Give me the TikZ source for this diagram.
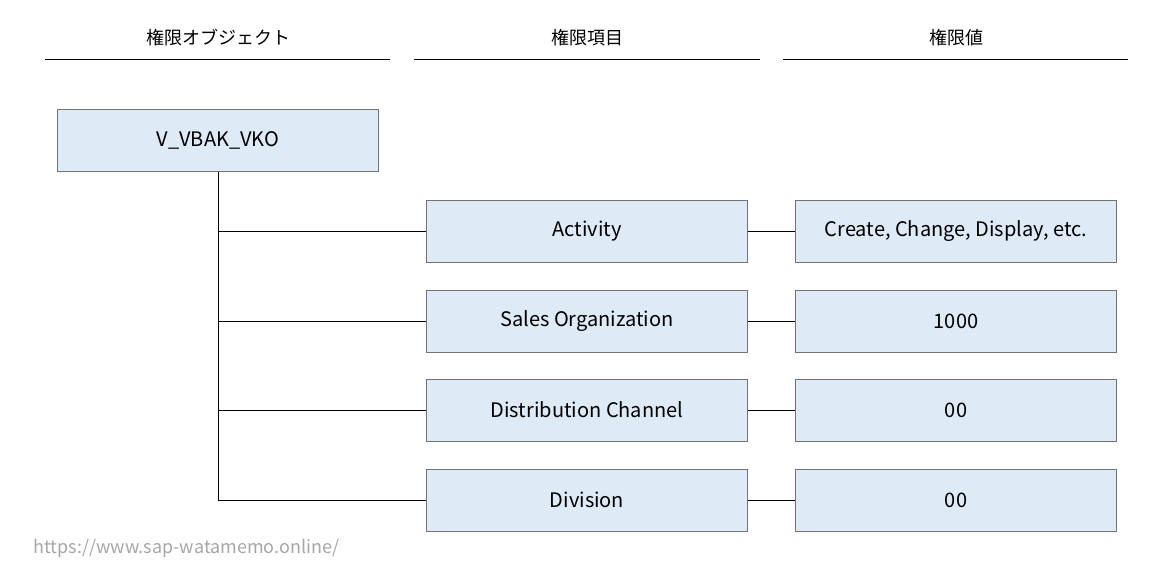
\documentclass[tikz,border=0pt]{standalone}
\usepackage{fontspec}
\setmainfont{Noto Sans CJK JP}
\begin{document}
\begin{tikzpicture}[x=1pt,y=-1pt,
 box/.style={draw=black!55,fill={rgb,255:red,222;green,234;blue,246},line width=1pt,minimum width=321pt,minimum height=62pt,inner sep=0pt,font=\fontsize{20}{24}\selectfont},
 hd/.style={font=\fontsize{18}{22}\selectfont},
 ln/.style={line width=0.8pt}]
\useasboundingbox (0,0) rectangle (1153,565);
\node[hd] (h1) at (218,38) {権限オブジェクト};
\node[hd] (h2) at (587,38) {権限項目};
\node[hd] (h3) at (956,38) {権限値};
\draw[ln] (45,59) -- (390,59);
\draw[ln] (414,59) -- (760,59);
\draw[ln] (783,59) -- (1128,59);
\node[box] (o) at (218,140) {V\_VBAK\_VKO};
\node[box] (f1) at (587,231) {Activity};
\node[box] (f2) at (587,321) {Sales Organization};
\node[box] (f3) at (587,410) {Distribution Channel};
\node[box] (f4) at (587,500) {Division};
\node[box] (v1) at (956,231) {Create, Change, Display, etc.};
\node[box] (v2) at (956,321) {1000};
\node[box] (v3) at (956,410) {00};
\node[box] (v4) at (956,500) {00};
\draw[ln] (o.south) |- (f4.west);
\foreach \i in {1,2,3}{\draw[ln] (o.south |- f\i.west) -- (f\i.west);}
\foreach \i in {1,2,3,4}{\draw[ln] (f\i.east) -- (v\i.west);}
\node[anchor=west,text=black!35,font=\fontsize{18}{22}\selectfont] (url) at (30,548) {https://www.sap-watamemo.online/};
\end{tikzpicture}
\end{document}
